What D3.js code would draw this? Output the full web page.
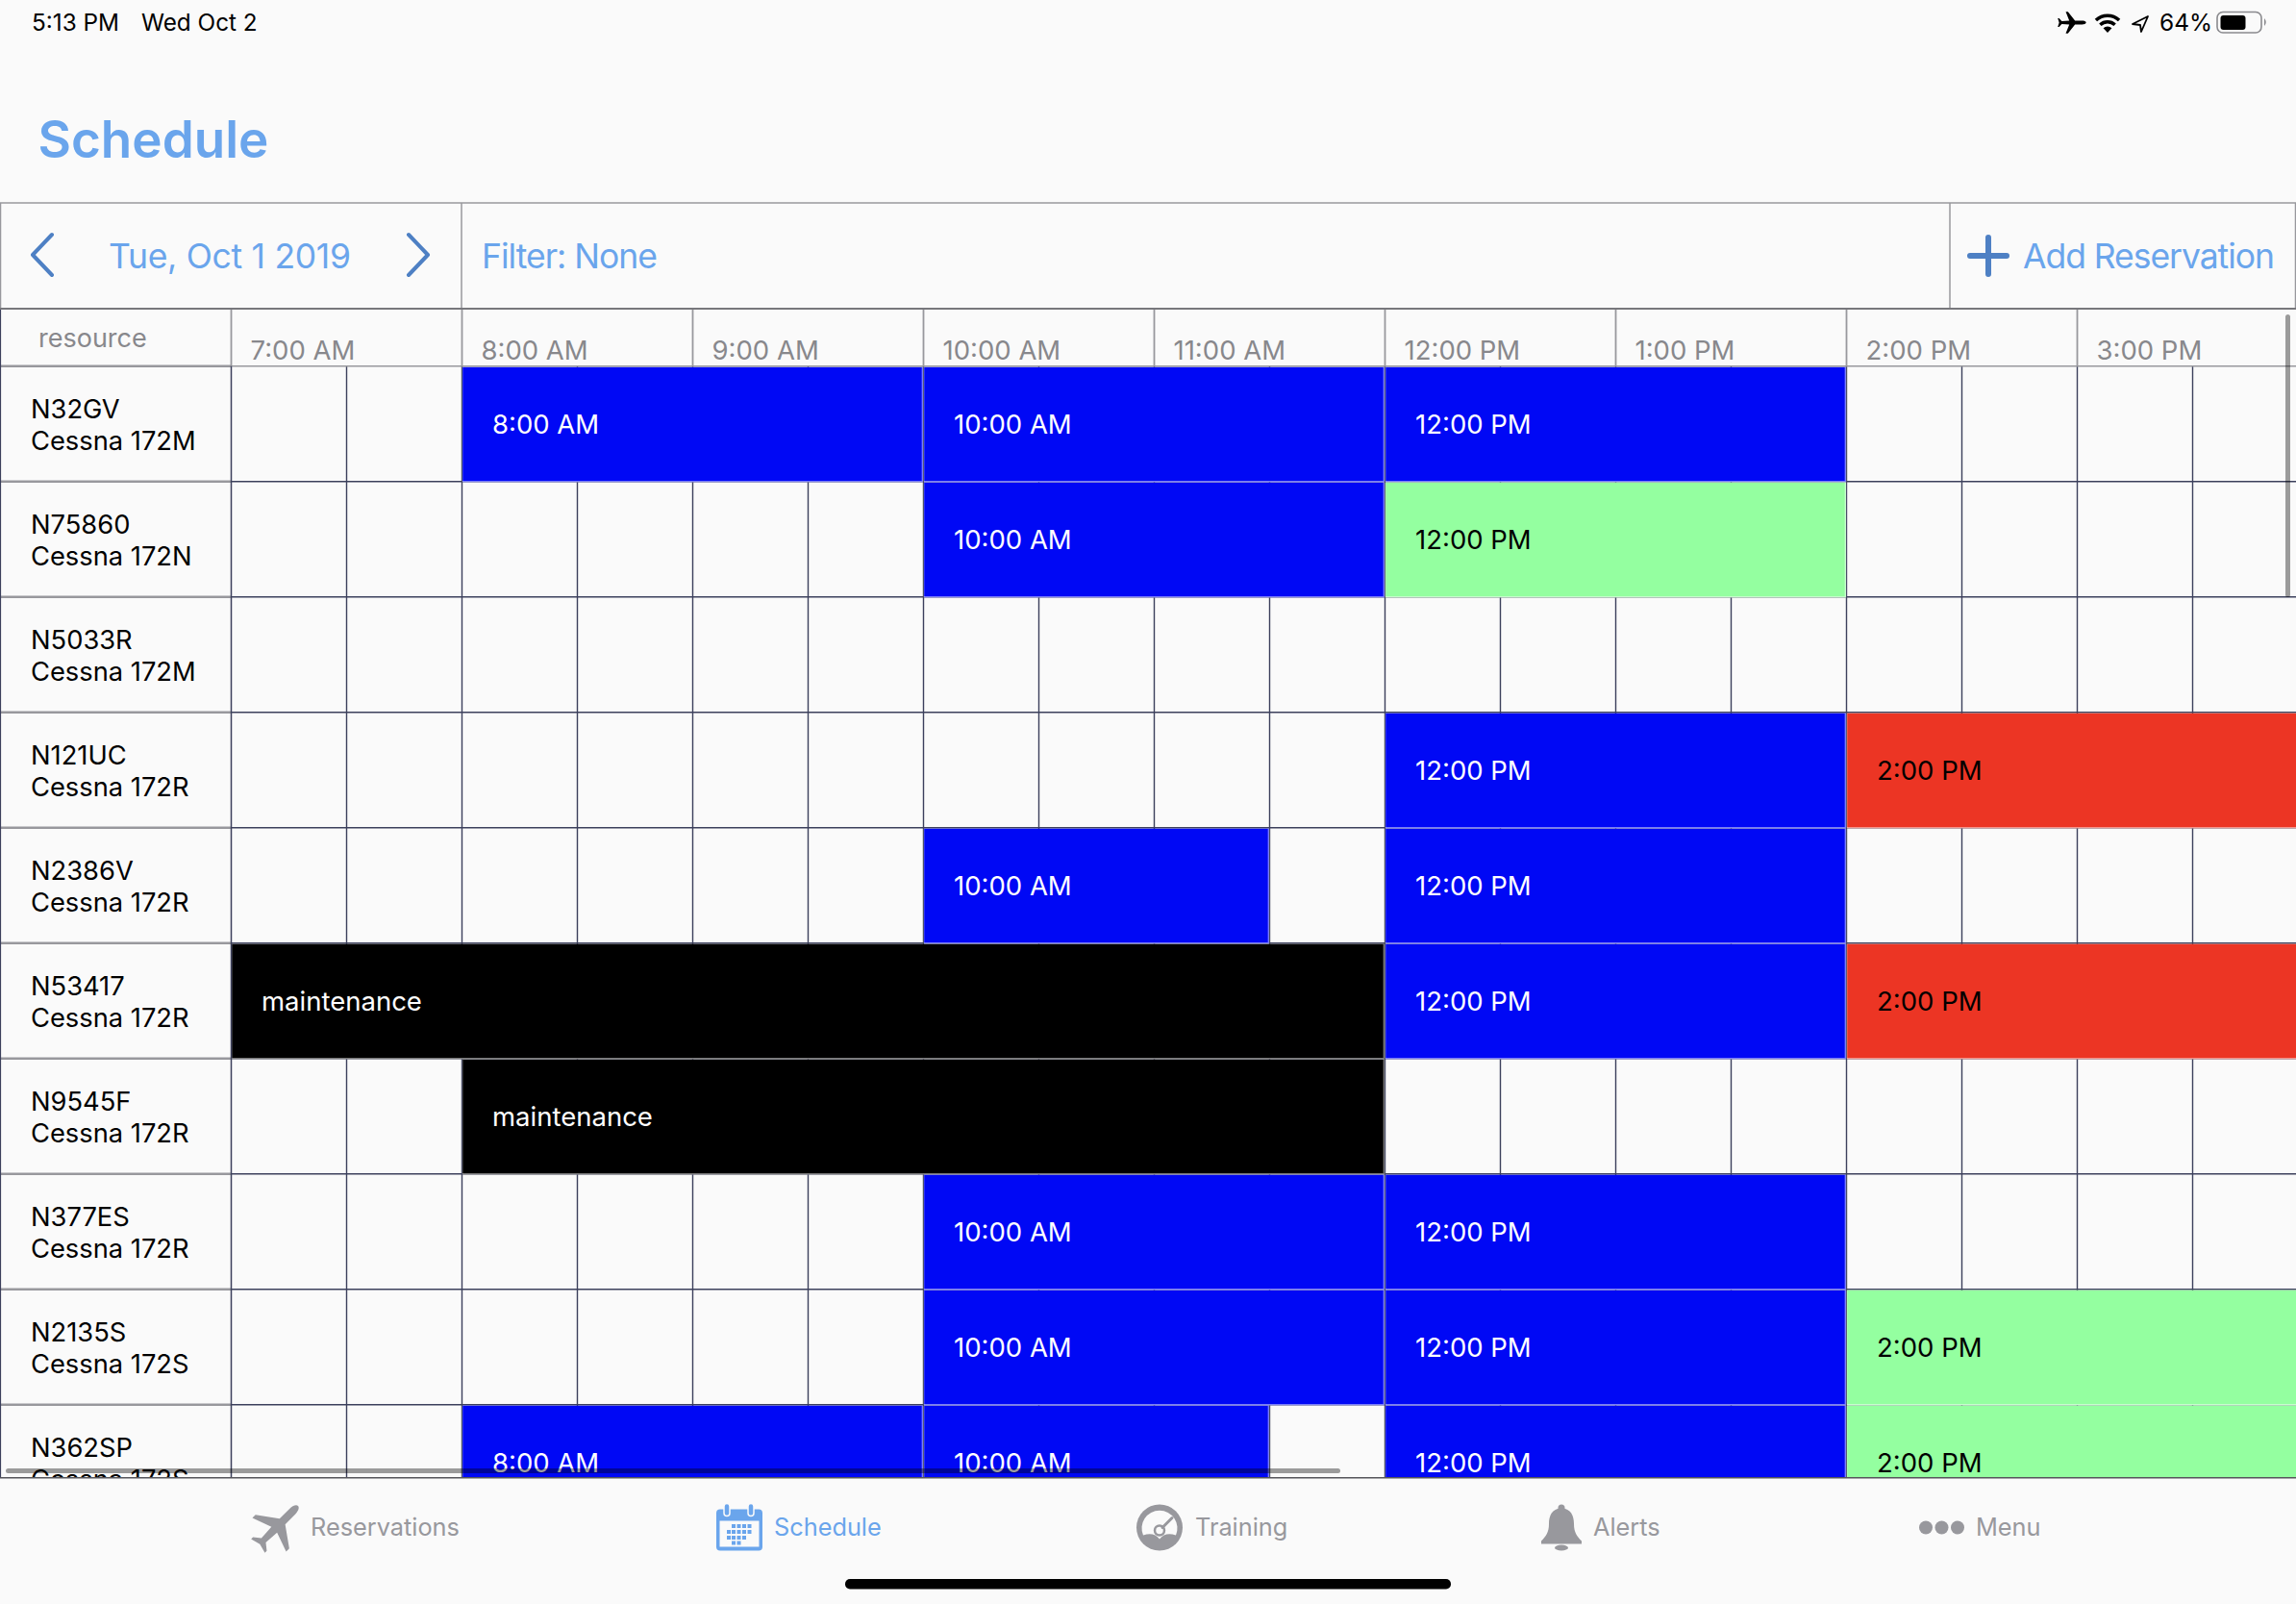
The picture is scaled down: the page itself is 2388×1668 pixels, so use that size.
<!DOCTYPE html>
<html>
<head>
<meta charset="utf-8">
<title>Schedule</title>
<script src="https://cdn.jsdelivr.net/npm/d3@7"></script>
<style>
  html, body { margin: 0; padding: 0; background: #fafafa; }
  svg { display: block; }
  text { font-family: Inter, "Noto Sans", sans-serif; }
</style>
</head>
<body>
<div id="chart"></div>
<script>
// Data
const tailNumbers = ["N32GV", "N75860", "N5033R", "N121UC", "N2386V", "N53417", "N9545F", "N377ES", "N2135S", "N362SP"];
const models = ["Cessna 172M", "Cessna 172N", "Cessna 172M", "Cessna 172R", "Cessna 172R", "Cessna 172R", "Cessna 172R", "Cessna 172R", "Cessna 172S", "Cessna 172S"];
const hours = [7, 8, 9, 10, 11, 12, 13, 14, 15];
const hourLabels = ["7:00 AM", "8:00 AM", "9:00 AM", "10:00 AM", "11:00 AM", "12:00 PM", "1:00 PM", "2:00 PM", "3:00 PM"];
const halfHours = [7.5, 8, 8.5, 9, 9.5, 10, 10.5, 11, 11.5, 12, 12.5, 13, 13.5, 14, 14.5, 15, 15.5];

// One entry per reservation
const bookingRow = [0, 0, 0, 1, 1, 3, 3, 4, 4, 5, 5, 5, 6, 7, 7, 8, 8, 8, 9, 9, 9, 9];
const bookingStart = [8, 10, 12, 10, 12, 12, 14, 10, 12, 7, 12, 14, 8, 10, 12, 10, 12, 14, 8, 10, 12, 14];
const bookingEnd = [10, 12, 14, 12, 14, 14, 16, 11.5, 14, 12, 14, 16, 12, 12, 14, 12, 14, 16, 10, 11.5, 14, 16];
const bookingKind = ["flight", "flight", "flight", "flight", "open", "flight", "pending", "flight", "flight", "maintenance", "flight", "pending", "maintenance", "flight", "flight", "flight", "flight", "open", "flight", "flight", "flight", "open"];
const bookingLabel = ["8:00 AM", "10:00 AM", "12:00 PM", "10:00 AM", "12:00 PM", "12:00 PM", "2:00 PM", "10:00 AM", "12:00 PM", "maintenance", "12:00 PM", "2:00 PM", "maintenance", "10:00 AM", "12:00 PM", "10:00 AM", "12:00 PM", "2:00 PM", "8:00 AM", "10:00 AM", "12:00 PM", "2:00 PM"];

const bookings = bookingRow.map((row, i) => ({
    row, start: bookingStart[i], end: bookingEnd[i], kind: bookingKind[i], label: bookingLabel[i]
}));

const kindFill = d3.scaleOrdinal()
    .domain(["flight", "open", "pending", "maintenance"])
    .range(["#0008f5", "#94ffa0", "#ec3524", "#000000"]);
const kindText = d3.scaleOrdinal()
    .domain(["flight", "open", "pending", "maintenance"])
    .range(["#ffffff", "#000000", "#000000", "#ffffff"]);

const width = 2388, height = 1668;
const blue = "#6aa5ec", darkBlue = "#4e80c4", grey = "#88888c", tabGrey = "#98989d", lineGrey = "#98989d", gridColor = "#3c405c";
const gridTop = 380.7, gridBottom = 1536.8;

const x = d3.scaleLinear().domain([7, 16]).range([240, 2400]);
const y = d3.scaleLinear().domain([0, 10]).range([gridTop, gridTop + 1200]);

const svg = d3.select("#chart").append("svg")
    .attr("width", width)
    .attr("height", height)
    .attr("viewBox", `0 0 ${width} ${height}`);

svg.append("rect").attr("width", width).attr("height", height).attr("fill", "#fafafa");

svg.append("clipPath").attr("id", "grid-clip")
    .append("rect").attr("x", 0).attr("y", gridTop).attr("width", width).attr("height", gridBottom - gridTop);

function label(parent, str, px, py, size, color, weight, length) {
    const t = parent.append("text")
        .attr("x", px).attr("y", py)
        .attr("font-size", size)
        .attr("font-weight", weight || 400)
        .attr("fill", color)
        .text(str);
    if (length) t.attr("textLength", length).attr("lengthAdjust", "spacing");
    return t;
}

// Status bar
label(svg, "5:13 PM", 33, 32, 24.3, "#000");
label(svg, "Wed Oct 2", 147, 32, 24.3, "#000");
label(svg, "64%", 2246, 32, 24.5, "#000");

const planePath = "M0,-33 C3,-33 4.5,-28 4.5,-24 L4.5,-8 L27,8 L27,13 L4.5,5 L3.5,22 L11,28 L11,31 L0,28 L-11,31 L-11,28 L-3.5,22 L-4.5,5 L-27,13 L-27,8 L-4.5,-8 L-4.5,-24 C-4.5,-28 -3,-33 0,-33Z";
svg.append("path").attr("d", planePath).attr("fill", "#000")
    .attr("transform", "translate(2154.5,23.5) rotate(90) scale(0.42,0.46)");

const wifi = svg.append("g").attr("transform", "translate(2192,34)");
[[0, 6.5], [9.5, 13], [16, 19.5]].forEach(r => {
    wifi.append("path").attr("fill", "#000")
        .attr("d", d3.arc().innerRadius(r[0]).outerRadius(r[1]).startAngle(-Math.PI / 4.2).endAngle(Math.PI / 4.2)());
});
svg.append("path").attr("d", "M2234,17 L2218,25 L2226,26 L2227,33 Z")
    .attr("fill", "none").attr("stroke", "#000").attr("stroke-width", 1.8).attr("stroke-linejoin", "round");
svg.append("rect").attr("x", 2306).attr("y", 12.5).attr("width", 46).attr("height", 21.5).attr("rx", 6)
    .attr("fill", "none").attr("stroke", "#8a8a8e").attr("stroke-width", 1.6);
svg.append("rect").attr("x", 2309.5).attr("y", 16).attr("width", 26).attr("height", 15).attr("rx", 3).attr("fill", "#000");
svg.append("path").attr("d", "M2355,19 q3.5,4 0,8 Z").attr("fill", "#8a8a8e");

// Title
label(svg, "Schedule", 39.5, 164, 53, blue, 600);

// Toolbar
const frame = svg.append("g").attr("stroke", lineGrey).attr("fill", "none");
frame.append("line").attr("x1", 0).attr("x2", width).attr("y1", 211).attr("y2", 211).attr("stroke-width", 1.5);
[0.5, 480, 2028, 2387.5].forEach(px => {
    frame.append("line").attr("x1", px).attr("x2", px).attr("y1", 211).attr("y2", 321).attr("stroke-width", 1.5);
});
label(svg, "Tue, Oct 1 2019", 113, 279, 35.5, blue, 400, 252);
label(svg, "Filter: None", 501, 279, 35.5, blue, 400, 183);
label(svg, "Add Reservation", 2104, 279, 35.5, blue, 400, 262);

svg.append("path").attr("d", "M54,244 L34,265 L54,286 M425,244 L445,265 L425,286")
    .attr("fill", "none").attr("stroke", darkBlue).attr("stroke-width", 4).attr("stroke-linecap", "round").attr("stroke-linejoin", "round");
svg.append("path").attr("d", "M2049,266 H2087 M2068,247 V285")
    .attr("fill", "none").attr("stroke", darkBlue).attr("stroke-width", 6).attr("stroke-linecap", "round");

// Half hour grid goes under the reservations
const gridLayer = svg.append("g").attr("clip-path", "url(#grid-clip)");
gridLayer.append("g").selectAll("line").data(halfHours).join("line")
    .attr("x1", d => x(d) + 0.5).attr("x2", d => x(d) + 0.5)
    .attr("y1", gridTop).attr("y2", gridBottom)
    .attr("stroke", gridColor).attr("stroke-width", 1.4);
gridLayer.append("g").selectAll("line").data(d3.range(1, 10)).join("line")
    .attr("x1", x(7)).attr("x2", width)
    .attr("y1", d => y(d)).attr("y2", d => y(d))
    .attr("stroke", gridColor).attr("stroke-width", 1.5);

// Reservation blocks
gridLayer.append("g").selectAll("rect").data(bookings).join("rect")
    .attr("x", d => x(d.start) + 1)
    .attr("y", d => y(d.row) + 1)
    .attr("width", d => x(d.end) - x(d.start) - 1)
    .attr("height", d => y(d.row + 1) - y(d.row) - 0.5)
    .attr("fill", d => kindFill(d.kind));
// Light edge on the bottom and right of each block, fainter on the left
gridLayer.append("g").selectAll("path").data(bookings).join("path")
    .attr("d", d => `M${x(d.start) + 1},${y(d.row + 1)} H${x(d.end)} M${x(d.end) - 0.6},${y(d.row) + 1} V${y(d.row + 1)}`)
    .attr("fill", "none")
    .attr("stroke", "#fff")
    .attr("stroke-opacity", 0.48)
    .attr("stroke-width", 1.5);
gridLayer.append("g").selectAll("line").data(bookings).join("line")
    .attr("x1", d => x(d.start) + 1.2).attr("x2", d => x(d.start) + 1.2)
    .attr("y1", d => y(d.row) + 1).attr("y2", d => y(d.row + 1))
    .attr("stroke", "#fff")
    .attr("stroke-opacity", 0.22)
    .attr("stroke-width", 1.2);
gridLayer.append("g").selectAll("text").data(bookings).join("text")
    .attr("x", d => x(d.start) + 32)
    .attr("y", d => y(d.row) + 70)
    .attr("font-size", 27.5)
    .attr("fill", d => kindText(d.kind))
    .text(d => d.label);

// Hour axis in the header row
const hourAxis = d3.axisTop(x)
    .tickValues(hours)
    .tickFormat((d, i) => hourLabels[i])
    .tickSize(59)
    .tickPadding(0);
const axisG = svg.append("g")
    .attr("transform", `translate(0,${gridTop})`)
    .call(hourAxis);
axisG.select(".domain").remove();
axisG.selectAll(".tick line").attr("stroke", lineGrey).attr("stroke-width", 1.8);
axisG.selectAll(".tick text")
    .attr("x", 20).attr("y", -7).attr("dy", 0)
    .attr("text-anchor", "start")
    .attr("font-size", 27.5)
    .attr("font-family", "Inter, sans-serif")
    .attr("fill", grey);

// Resource column
const resourceLayer = svg.append("g").attr("clip-path", "url(#grid-clip)");
resourceLayer.append("g").selectAll("text").data(tailNumbers).join("text")
    .attr("x", 32).attr("y", (d, i) => y(i) + 54.5)
    .attr("font-size", 27.3).attr("fill", "#000").text(d => d);
resourceLayer.append("g").selectAll("text").data(models).join("text")
    .attr("x", 32).attr("y", (d, i) => y(i) + 87.5)
    .attr("font-size", 27.3).attr("fill", "#000").text(d => d);

svg.append("g").selectAll("line").data(d3.range(0, 10)).join("line")
    .attr("x1", 0).attr("x2", 240)
    .attr("y1", d => y(d)).attr("y2", d => y(d))
    .attr("stroke", lineGrey).attr("stroke-width", 2.4);
svg.append("line").attr("x1", 240).attr("x2", width).attr("y1", gridTop).attr("y2", gridTop)
    .attr("stroke", lineGrey).attr("stroke-width", 1.5);
svg.append("line").attr("x1", 240.5).attr("x2", 240.5).attr("y1", gridTop).attr("y2", gridBottom)
    .attr("stroke", gridColor).attr("stroke-width", 1.5);
svg.append("line").attr("x1", 0.5).attr("x2", 0.5).attr("y1", 321).attr("y2", gridBottom)
    .attr("stroke", gridColor).attr("stroke-width", 1.2);
label(svg, "resource", 40, 361, 27, grey);

// Frame lines
svg.append("line").attr("x1", 0).attr("x2", width).attr("y1", 321).attr("y2", 321)
    .attr("stroke", "#77777c").attr("stroke-width", 2.2);
svg.append("line").attr("x1", 0).attr("x2", width).attr("y1", gridBottom).attr("y2", gridBottom)
    .attr("stroke", "#55555a").attr("stroke-width", 1.5);

// Scroll indicators
svg.append("rect").attr("x", 6).attr("y", 1527).attr("width", 1388).attr("height", 5).attr("rx", 2.5)
    .attr("fill", "#000").attr("fill-opacity", 0.38);
svg.append("rect").attr("x", 2377).attr("y", 327).attr("width", 5).attr("height", 294).attr("rx", 2.5)
    .attr("fill", "#000").attr("fill-opacity", 0.38);

// Tab bar
label(svg, "Reservations", 323, 1597, 25.3, tabGrey);
label(svg, "Schedule", 805, 1597, 25.3, blue);
label(svg, "Training", 1243, 1597, 25.3, tabGrey);
label(svg, "Alerts", 1657, 1597, 25.3, tabGrey);
label(svg, "Menu", 2055, 1597, 25.3, tabGrey);

svg.append("path").attr("d", planePath).attr("fill", tabGrey)
    .attr("transform", "translate(288.5,1587.5) rotate(45) scale(0.92,0.92)");

// Calendar icon
const cal = svg.append("g").attr("transform", "translate(745,1564.5)");
cal.append("rect").attr("y", 5).attr("width", 48).attr("height", 43).attr("rx", 4).attr("fill", blue);
cal.append("rect").attr("x", 3.5).attr("y", 17).attr("width", 41).attr("height", 27).attr("fill", "#fafafa");
[11, 36].forEach(cx => {
    cal.append("rect").attr("x", cx - 3).attr("y", -1).attr("width", 6).attr("height", 13).attr("rx", 3)
        .attr("fill", blue).attr("stroke", "#fafafa").attr("stroke-width", 1.5);
});
[[16, 21], [21.5, 21], [27, 21], [32.5, 21], [11, 27], [16, 27], [21.5, 27], [27, 27], [32.5, 27], [11, 33], [16, 33], [21.5, 33], [27, 33], [16, 38.5], [21.5, 38.5]].forEach(p => {
    cal.append("rect").attr("x", p[0]).attr("y", p[1] - 0.5).attr("width", 4).attr("height", 4).attr("fill", blue);
});

// Gauge icon
const gauge = svg.append("g").attr("transform", "translate(1206,1588.5)");
gauge.append("circle").attr("r", 24).attr("fill", tabGrey);
gauge.append("path").attr("d", "M-17,8 A18.5,18.5 0 1 1 17,8 Q6,4 0,12 Q-6,4 -17,8Z").attr("fill", "#fafafa");
gauge.append("circle").attr("cy", 3).attr("r", 5).attr("fill", "#fafafa").attr("stroke", tabGrey).attr("stroke-width", 2.5);
gauge.append("path").attr("d", "M3,0 L13,-10").attr("stroke", tabGrey).attr("stroke-width", 3).attr("stroke-linecap", "round");

// Bell icon
const bell = svg.append("g").attr("fill", tabGrey).attr("transform", "translate(0,-0.5)");
bell.append("circle").attr("cx", 1624).attr("cy", 1568.5).attr("r", 3.5);
bell.append("path").attr("d", "M1624,1569 C1634,1569 1637,1577 1637,1585 C1637,1594 1640,1598 1645,1603 L1645,1606 L1603,1606 L1603,1603 C1608,1598 1611,1594 1611,1585 C1611,1577 1614,1569 1624,1569Z");
bell.append("ellipse").attr("cx", 1624).attr("cy", 1610).attr("rx", 7).attr("ry", 3);

// Menu dots
svg.append("g").attr("fill", tabGrey).selectAll("circle").data([2003, 2019.5, 2036]).join("circle")
    .attr("cx", d => d).attr("cy", 1588.5).attr("r", 7);

// Home indicator
svg.append("rect").attr("x", 879).attr("y", 1642).attr("width", 630).attr("height", 10.5).attr("rx", 5).attr("fill", "#000");
</script>
</body>
</html>
